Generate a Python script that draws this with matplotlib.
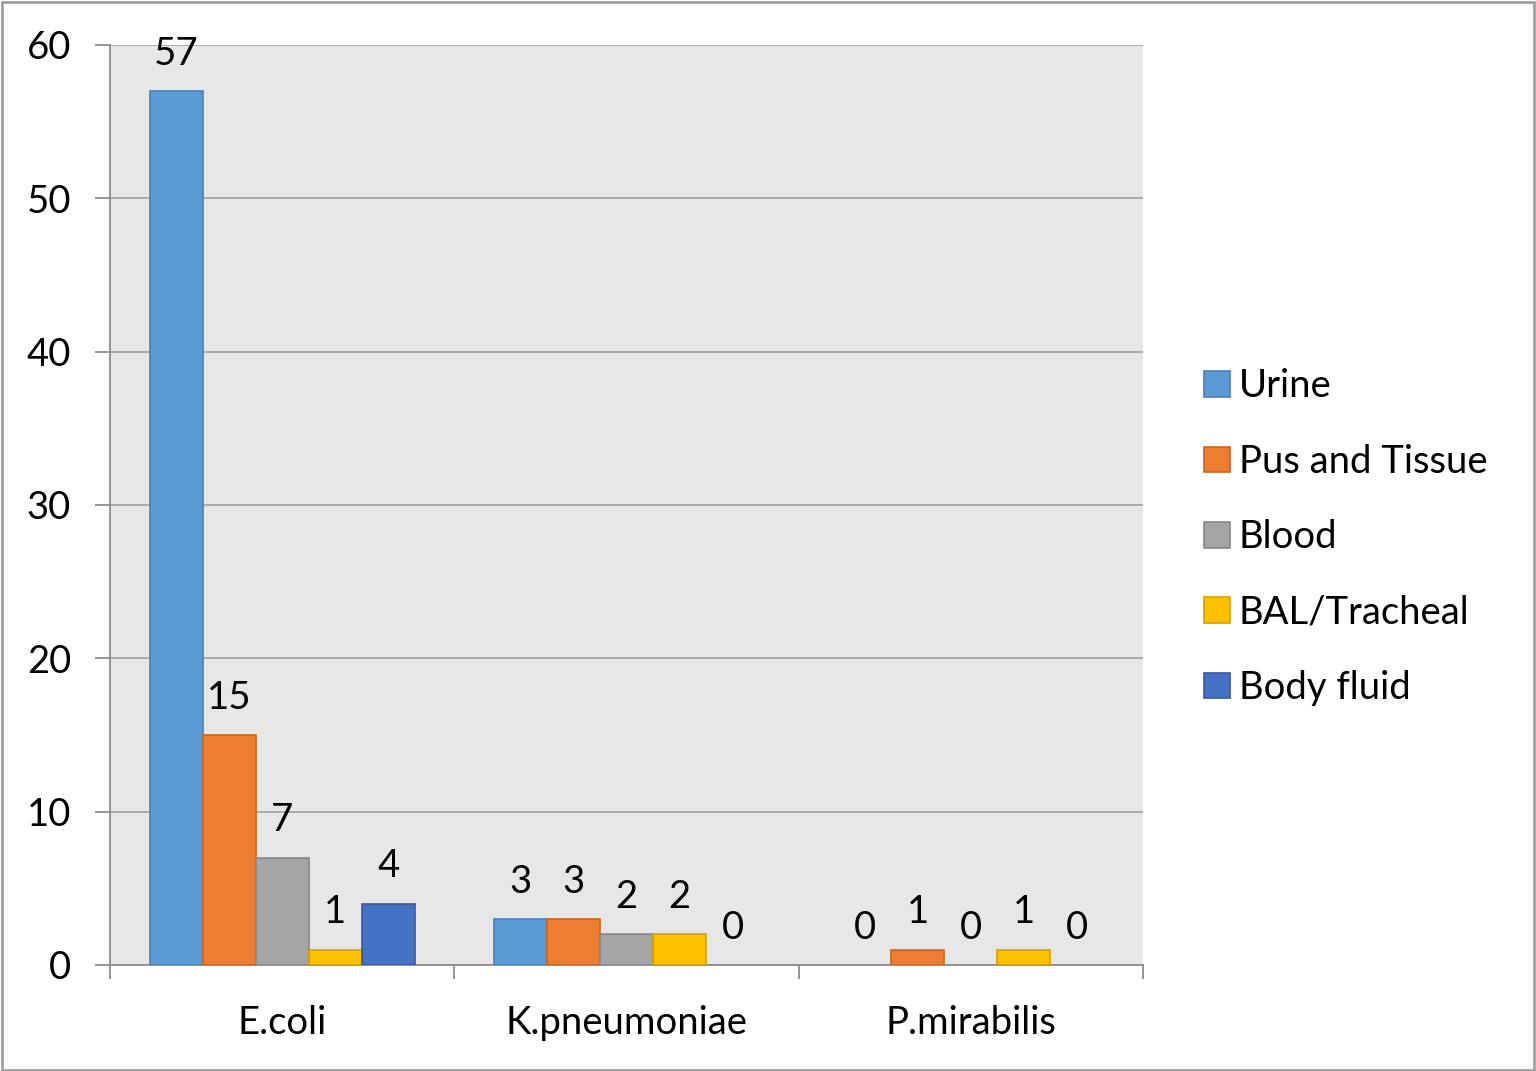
import numpy as np
from matplotlib import pyplot as plt
from matplotlib.patches import Rectangle

plt.rcParams['font.family'] = ['Lato', 'DejaVu Sans']

# Data
organisms = ['E.coli', 'K.pneumoniae', 'P.mirabilis']
specimens = ['Urine', 'Pus and Tissue', 'Blood', 'BAL/Tracheal', 'Body fluid']
urine = [57, 3, 0]
pus_tissue = [15, 3, 1]
blood = [7, 2, 0]
bal_tracheal = [1, 2, 1]
body_fluid = [4, 0, 0]
yticks = [0, 10, 20, 30, 40, 50, 60]

series = [urine, pus_tissue, blood, bal_tracheal, body_fluid]
colors = ['#5B9BD5', '#ED7D31', '#A5A5A5', '#FFC000', '#4472C4']
edges = ['#4A82B5', '#C6661F', '#888888', '#D4A000', '#36599E']

FS = 27.5

fig = plt.figure(figsize=(15.36, 10.71), dpi=100)
ax = fig.add_axes([0.0716, 0.099, 0.6726, 0.859])
ax.set_facecolor('#E7E7E7')

x = np.arange(len(organisms))
width = 0.154
for i, (vals, name) in enumerate(zip(series, specimens)):
    pos = x + (i - 2) * width
    lw = [1.2 if v > 0 else 0 for v in vals]
    ax.bar(pos, vals, width, color=colors[i], edgecolor=edges[i],
           linewidth=lw, label=name, zorder=3)
    for p, v in zip(pos, vals):
        ax.annotate(str(v), (p, v), xytext=(0, 14), textcoords='offset points',
                    ha='center', va='bottom', fontsize=FS, color='black',
                    zorder=4)

ax.set_xlim(-0.5, 2.5)
ax.set_ylim(0, 60)
ax.set_yticks(yticks)
ax.tick_params(axis='y', labelsize=FS, length=11, width=1.3,
               color='#8C8C8C', pad=17)
ax.set_xticks(x)
ax.set_xticklabels(organisms)
ax.tick_params(axis='x', length=0, labelsize=FS, pad=29)
# category boundary ticks below the axis
ax.set_xticks([-0.5, 0.5, 1.5, 2.5], minor=True)
ax.tick_params(axis='x', which='minor', length=10, width=1.3,
               color='#8C8C8C')

ax.grid(axis='y', color='#A6A6A6', linewidth=1.3, zorder=0)
ax.set_axisbelow(True)
for s in ['top', 'right']:
    ax.spines[s].set_visible(False)
for s in ['left', 'bottom']:
    ax.spines[s].set_color('#8C8C8C')
    ax.spines[s].set_linewidth(1.3)

leg = ax.legend(loc='center left', bbox_to_anchor=(1.026, 0.465),
                frameon=False, fontsize=FS, handlelength=0.66,
                handleheight=0.66, handletextpad=0.24, labelspacing=1.03)

# outer border
fig.patches.append(Rectangle((0.001, 0.001), 0.998, 0.997,
                             transform=fig.transFigure, fill=False,
                             edgecolor='#A0A0A0', linewidth=2))

fig.savefig('out.png', dpi=100)
